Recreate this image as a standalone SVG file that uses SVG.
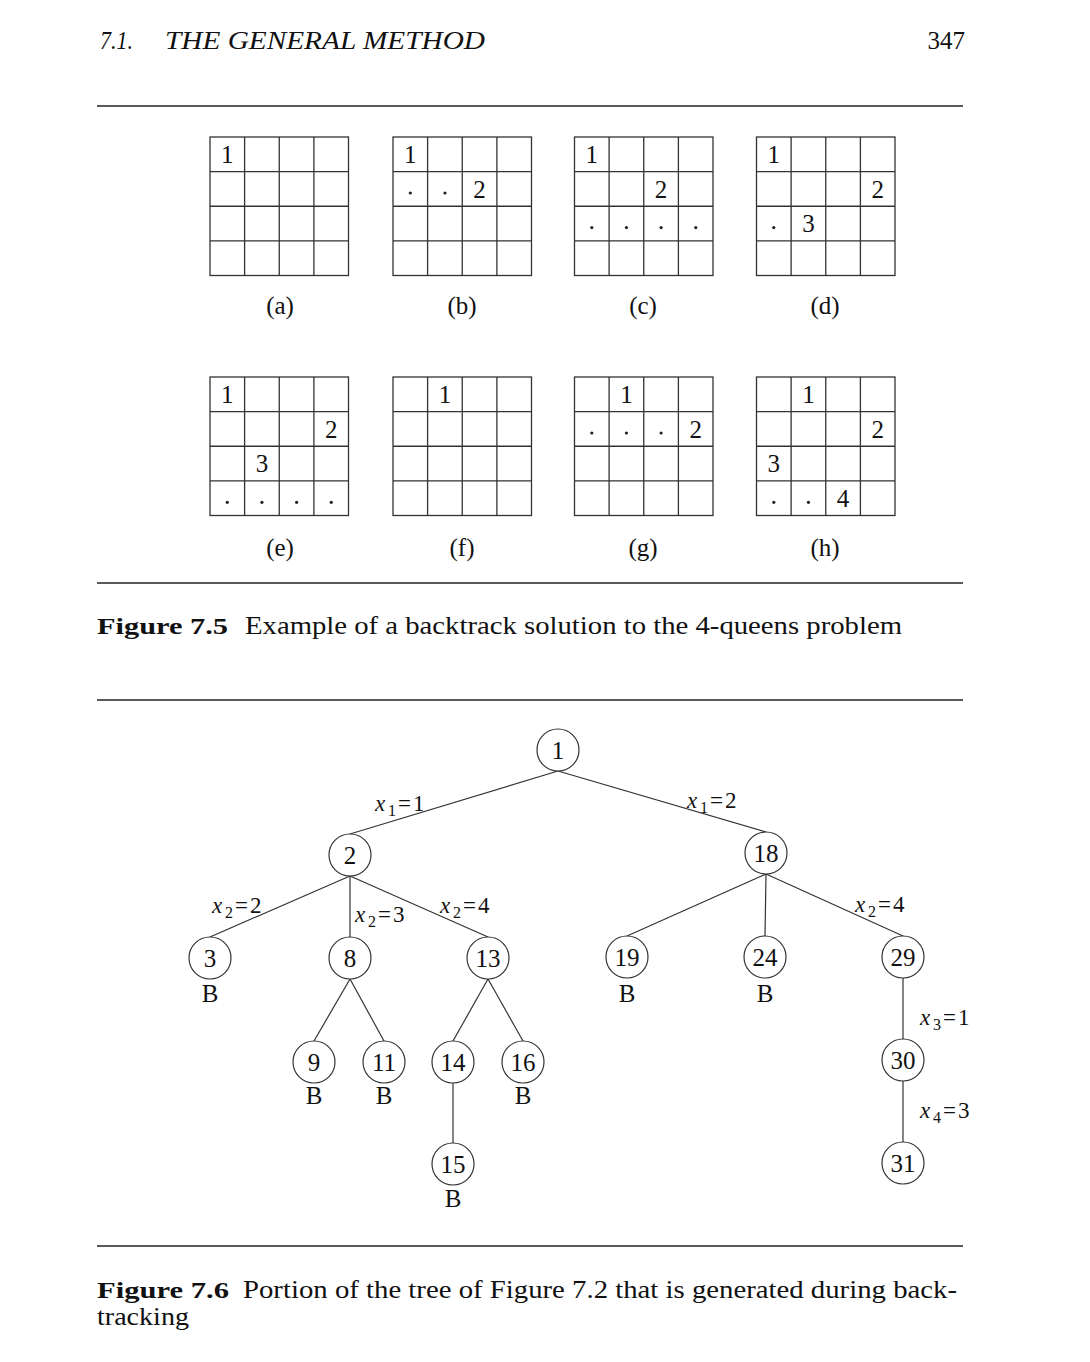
<svg xmlns="http://www.w3.org/2000/svg" width="1090" height="1362" viewBox="0 0 1090 1362">
<style>
text{font-family:"Liberation Serif","Times New Roman",serif;fill:#111}
.rule{stroke:#222;stroke-width:1.6}
.grid{fill:none;stroke:#333;stroke-width:1.3}
.bd{font-size:25px;text-anchor:middle}
.dot{fill:#222}
.sub{font-size:25px;text-anchor:middle}
.edge{stroke:#333;stroke-width:1.2;fill:none}
.node circle{fill:#fff;stroke:#333;stroke-width:1.2}
.node text{font-size:25px;text-anchor:middle}
.blab{font-size:23px;text-anchor:middle}
.el{font-size:23px}
.el .v{font-style:italic}
.el .s{font-size:16px}
.cap{font-size:25px}
.capb{font-size:24px;font-weight:bold}
.hdr{font-size:26px;font-style:italic}
</style>
<defs>
<g id="board">
<rect x="0" y="0" width="138.5" height="138.5" class="grid"/>
<path class="grid" d="M34.6 0V138.5M69.25 0V138.5M103.9 0V138.5M0 34.6H138.5M0 69.25H138.5M0 103.9H138.5"/>
</g>
</defs>

<!-- page header -->
<g id="header">
<text class="hdr" x="100" y="49" textLength="33" lengthAdjust="spacingAndGlyphs">7.1.</text>
<text class="hdr" x="165" y="49" textLength="320" lengthAdjust="spacingAndGlyphs">THE GENERAL METHOD</text>
<text x="965" y="49" style="font-size:25px" text-anchor="end">347</text>
</g>

<g id="rules">
<line class="rule" x1="97" y1="106" x2="963" y2="106"/>
<line class="rule" x1="97" y1="583" x2="963" y2="583"/>
<line class="rule" x1="97" y1="700" x2="963" y2="700"/>
<line class="rule" x1="97" y1="1246" x2="963" y2="1246"/>
</g>

<!-- Figure 7.5 boards -->
<g id="board-a" transform="translate(210,137)">
<use href="#board"/>
<text class="bd" x="17.3" y="26">1</text>
</g>
<g id="board-b" transform="translate(393,137)">
<use href="#board"/>
<text class="bd" x="17.3" y="26">1</text>
<circle class="dot" cx="17.3" cy="56" r="1.6"/>
<circle class="dot" cx="51.95" cy="56" r="1.6"/>
<text class="bd" x="86.6" y="60.5">2</text>
</g>
<g id="board-c" transform="translate(574.5,137)">
<use href="#board"/>
<text class="bd" x="17.3" y="26">1</text>
<text class="bd" x="86.6" y="60.5">2</text>
<circle class="dot" cx="17.3" cy="90.6" r="1.6"/>
<circle class="dot" cx="51.95" cy="90.6" r="1.6"/>
<circle class="dot" cx="86.6" cy="90.6" r="1.6"/>
<circle class="dot" cx="121.25" cy="90.6" r="1.6"/>
</g>
<g id="board-d" transform="translate(756.5,137)">
<use href="#board"/>
<text class="bd" x="17.3" y="26">1</text>
<text class="bd" x="121.25" y="60.5">2</text>
<circle class="dot" cx="17.3" cy="90.6" r="1.6"/>
<text class="bd" x="51.95" y="95">3</text>
</g>
<g id="labels-top">
<text class="sub" x="280" y="314">(a)</text>
<text class="sub" x="462" y="314">(b)</text>
<text class="sub" x="643" y="314">(c)</text>
<text class="sub" x="825" y="314">(d)</text>
</g>

<g id="board-e" transform="translate(210,377)">
<use href="#board"/>
<text class="bd" x="17.3" y="26">1</text>
<text class="bd" x="121.25" y="60.5">2</text>
<text class="bd" x="51.95" y="95">3</text>
<circle class="dot" cx="17.3" cy="125.3" r="1.6"/>
<circle class="dot" cx="51.95" cy="125.3" r="1.6"/>
<circle class="dot" cx="86.6" cy="125.3" r="1.6"/>
<circle class="dot" cx="121.25" cy="125.3" r="1.6"/>
</g>
<g id="board-f" transform="translate(393,377)">
<use href="#board"/>
<text class="bd" x="51.95" y="26">1</text>
</g>
<g id="board-g" transform="translate(574.5,377)">
<use href="#board"/>
<text class="bd" x="51.95" y="26">1</text>
<circle class="dot" cx="17.3" cy="56" r="1.6"/>
<circle class="dot" cx="51.95" cy="56" r="1.6"/>
<circle class="dot" cx="86.6" cy="56" r="1.6"/>
<text class="bd" x="121.25" y="60.5">2</text>
</g>
<g id="board-h" transform="translate(756.5,377)">
<use href="#board"/>
<text class="bd" x="51.95" y="26">1</text>
<text class="bd" x="121.25" y="60.5">2</text>
<text class="bd" x="17.3" y="95">3</text>
<circle class="dot" cx="17.3" cy="125.3" r="1.6"/>
<circle class="dot" cx="51.95" cy="125.3" r="1.6"/>
<text class="bd" x="86.6" y="129.5">4</text>
</g>
<g id="labels-bottom">
<text class="sub" x="280" y="556">(e)</text>
<text class="sub" x="462" y="556">(f)</text>
<text class="sub" x="643" y="556">(g)</text>
<text class="sub" x="825" y="556">(h)</text>
</g>

<g id="caption-7-5">
<text class="capb" x="97" y="634" textLength="131" lengthAdjust="spacingAndGlyphs">Figure 7.5</text>
<text class="cap" x="245" y="634" textLength="657" lengthAdjust="spacingAndGlyphs">Example of a backtrack solution to the 4-queens problem</text>
</g>

<!-- Figure 7.6 tree -->
<g id="connectors">
<line class="edge" x1="558" y1="771" x2="350" y2="834"/>
<line class="edge" x1="558" y1="771" x2="766" y2="832"/>
<line class="edge" x1="350" y1="876" x2="210" y2="937"/>
<line class="edge" x1="350" y1="876" x2="350" y2="937"/>
<line class="edge" x1="350" y1="876" x2="488" y2="937"/>
<line class="edge" x1="766" y1="874" x2="627" y2="936"/>
<line class="edge" x1="766" y1="874" x2="765" y2="936"/>
<line class="edge" x1="766" y1="874" x2="903" y2="936"/>
<line class="edge" x1="350" y1="979" x2="314" y2="1041"/>
<line class="edge" x1="350" y1="979" x2="384" y2="1041"/>
<line class="edge" x1="488" y1="979" x2="453" y2="1041"/>
<line class="edge" x1="488" y1="979" x2="523" y2="1041"/>
<line class="edge" x1="453" y1="1083" x2="453" y2="1143"/>
<line class="edge" x1="903" y1="978" x2="903" y2="1039"/>
<line class="edge" x1="903" y1="1081" x2="903" y2="1142"/>
</g>

<g id="edge-labels">
<text class="el" y="811"><tspan class="v" x="375">x</tspan><tspan class="s" x="388" dy="5">1</tspan><tspan x="398" dy="-5">=</tspan><tspan x="413">1</tspan></text>
<text class="el" y="808"><tspan class="v" x="687">x</tspan><tspan class="s" x="700" dy="5">1</tspan><tspan x="710" dy="-5">=</tspan><tspan x="725">2</tspan></text>
<text class="el" y="913"><tspan class="v" x="212">x</tspan><tspan class="s" x="225" dy="5">2</tspan><tspan x="235" dy="-5">=</tspan><tspan x="250">2</tspan></text>
<text class="el" y="922"><tspan class="v" x="355">x</tspan><tspan class="s" x="368" dy="5">2</tspan><tspan x="378" dy="-5">=</tspan><tspan x="393">3</tspan></text>
<text class="el" y="913"><tspan class="v" x="440">x</tspan><tspan class="s" x="453" dy="5">2</tspan><tspan x="463" dy="-5">=</tspan><tspan x="478">4</tspan></text>
<text class="el" y="912"><tspan class="v" x="855">x</tspan><tspan class="s" x="868" dy="5">2</tspan><tspan x="878" dy="-5">=</tspan><tspan x="893">4</tspan></text>
<text class="el" y="1025"><tspan class="v" x="920">x</tspan><tspan class="s" x="933" dy="5">3</tspan><tspan x="943" dy="-5">=</tspan><tspan x="958">1</tspan></text>
<text class="el" y="1118"><tspan class="v" x="920">x</tspan><tspan class="s" x="933" dy="5">4</tspan><tspan x="943" dy="-5">=</tspan><tspan x="958">3</tspan></text>
</g>

<g id="node-1" class="node"><circle cx="558" cy="750" r="21"/><text x="558" y="758.5">1</text></g>
<g id="node-2" class="node"><circle cx="350" cy="855" r="21"/><text x="350" y="863.5">2</text></g>
<g id="node-18" class="node"><circle cx="766" cy="853" r="21"/><text x="766" y="861.5">18</text></g>
<g id="node-3" class="node"><circle cx="210" cy="958" r="21"/><text x="210" y="966.5">3</text><text class="blab" x="210" y="1002">B</text></g>
<g id="node-8" class="node"><circle cx="350" cy="958" r="21"/><text x="350" y="966.5">8</text></g>
<g id="node-13" class="node"><circle cx="488" cy="958" r="21"/><text x="488" y="966.5">13</text></g>
<g id="node-19" class="node"><circle cx="627" cy="957" r="21"/><text x="627" y="965.5">19</text><text class="blab" x="627" y="1002">B</text></g>
<g id="node-24" class="node"><circle cx="765" cy="957" r="21"/><text x="765" y="965.5">24</text><text class="blab" x="765" y="1002">B</text></g>
<g id="node-29" class="node"><circle cx="903" cy="957" r="21"/><text x="903" y="965.5">29</text></g>
<g id="node-9" class="node"><circle cx="314" cy="1062" r="21"/><text x="314" y="1070.5">9</text><text class="blab" x="314" y="1104">B</text></g>
<g id="node-11" class="node"><circle cx="384" cy="1062" r="21"/><text x="384" y="1070.5">11</text><text class="blab" x="384" y="1104">B</text></g>
<g id="node-14" class="node"><circle cx="453" cy="1062" r="21"/><text x="453" y="1070.5">14</text></g>
<g id="node-16" class="node"><circle cx="523" cy="1062" r="21"/><text x="523" y="1070.5">16</text><text class="blab" x="523" y="1104">B</text></g>
<g id="node-15" class="node"><circle cx="453" cy="1164" r="21"/><text x="453" y="1172.5">15</text><text class="blab" x="453" y="1207">B</text></g>
<g id="node-30" class="node"><circle cx="903" cy="1060" r="21"/><text x="903" y="1068.5">30</text></g>
<g id="node-31" class="node"><circle cx="903" cy="1163" r="21"/><text x="903" y="1171.5">31</text></g>

<g id="caption-7-6">
<text class="capb" x="97" y="1298" textLength="132" lengthAdjust="spacingAndGlyphs">Figure 7.6</text>
<text class="cap" x="243" y="1298" textLength="714" lengthAdjust="spacingAndGlyphs">Portion of the tree of Figure 7.2 that is generated during back-</text>
<text class="cap" x="97" y="1325" textLength="92" lengthAdjust="spacingAndGlyphs">tracking</text>
</g>
</svg>
